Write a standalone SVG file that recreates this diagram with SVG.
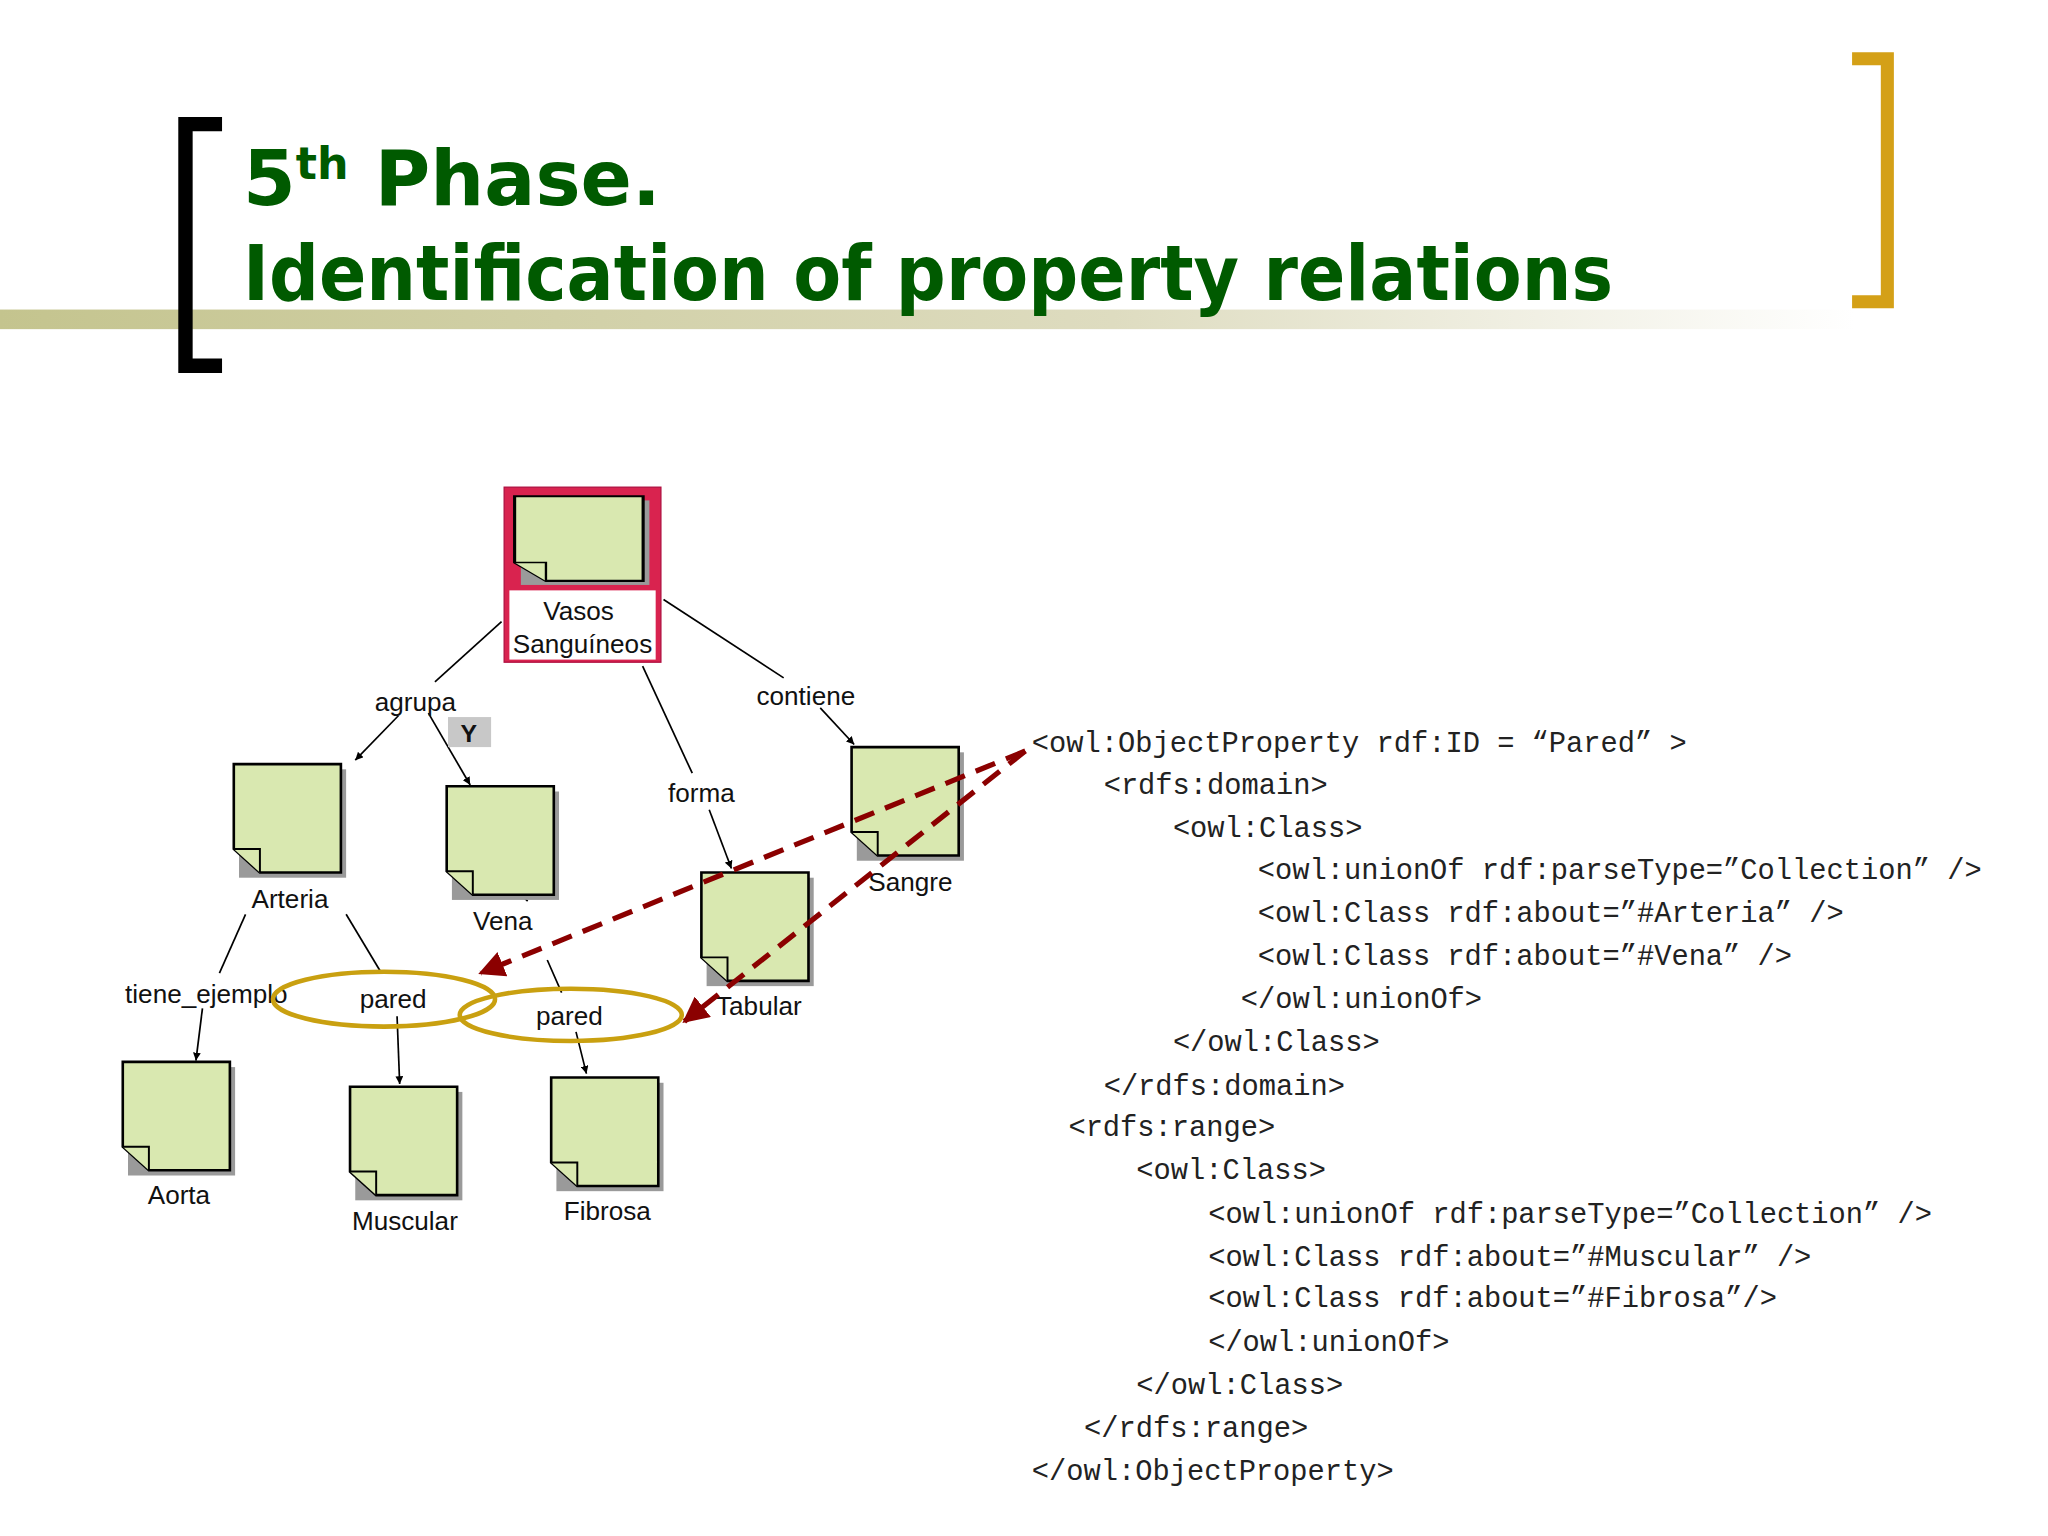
<svg xmlns="http://www.w3.org/2000/svg" width="2048" height="1536" viewBox="0 0 2048 1536">
<defs>
<linearGradient id="bar" x1="0" x2="1" y1="0" y2="0"><stop offset="0" stop-color="#c4c48e"/><stop offset="0.6" stop-color="#dedcc0"/><stop offset="1" stop-color="#ffffff"/></linearGradient>
<marker id="ah" viewBox="0 0 10 10" refX="10" refY="5" markerWidth="6" markerHeight="6" orient="auto" markerUnits="userSpaceOnUse"><path d="M0,0 L10,5 L0,10 z" fill="#000"/></marker>
<marker id="rh" viewBox="0 0 10 10" refX="9" refY="5" markerWidth="5" markerHeight="5" orient="auto"><path d="M0,0 L10,5 L0,10 z" fill="#8b0000"/></marker>
<g id="note"><rect x="4" y="4" width="82" height="83" fill="#9a9a9a"/><path d="M0,0 H82 V83 H20 L0,65 Z" fill="#d9e8b0" stroke="#000" stroke-width="2"/><path d="M0,65 H20 V83" fill="#d9e8b0" stroke="#000" stroke-width="1.5"/></g>
</defs>
<style>
.lbl{font-family:"Liberation Sans",Arial,sans-serif;font-size:20px;fill:#111;text-anchor:middle}
.ed{stroke:#000;stroke-width:1.3;fill:none}
.code{font-family:"Liberation Mono","DejaVu Sans Mono",monospace;font-size:22px;fill:#222}
.ttl{font-family:"DejaVu Sans",sans-serif;font-weight:bold;fill:#005a00}
</style>
<rect width="2048" height="1536" fill="#fff"/>
<g transform="scale(1.30612)">
<g id="title">
<rect x="0" y="237" width="1420" height="15" fill="url(#bar)"/>
<path d="M170,95 H142 V280 H170" fill="none" stroke="#000" stroke-width="11"/>
<path d="M1418,45 H1445 V231 H1418" fill="none" stroke="#d4a017" stroke-width="10"/>
<text class="ttl" x="186" y="157" font-size="58">5<tspan font-size="34" dy="-20">th</tspan><tspan dy="20"> Phase.</tspan></text>
<text class="ttl" x="186" y="230" font-size="58" textLength="1049" lengthAdjust="spacingAndGlyphs">Identification of property relations</text>
</g>
<g id="connectors">
<path class="ed" d="M384,476 L333,522"/><path class="ed" d="M305,548 L272,582" marker-end="url(#ah)"/>
<path class="ed" d="M328,546 L360,601" marker-end="url(#ah)"/>
<path class="ed" d="M492,510 L530,592"/><path class="ed" d="M543,620 L560,665" marker-end="url(#ah)"/>
<path class="ed" d="M508,459 L600,519"/><path class="ed" d="M628,542 L654,570" marker-end="url(#ah)"/>
<path class="ed" d="M188,700 L168,745"/><path class="ed" d="M155,772 L150,812" marker-end="url(#ah)"/>
<path class="ed" d="M265,700 L292,745"/><path class="ed" d="M304,778 L306,830" marker-end="url(#ah)"/>
<path class="ed" d="M402,688 L404,690 M419,735 L430,760"/><path class="ed" d="M441,790 L449,822" marker-end="url(#ah)"/>
</g>
<g id="n-vasos"><rect x="386" y="373" width="120" height="134" fill="#d9234f" stroke="#b01040"/><rect x="390" y="452" width="112" height="53" fill="#fff"/><use href="#note" transform="translate(394,380) scale(1.2,0.78)"/><text class="lbl" x="443" y="475">Vasos</text><text class="lbl" x="446" y="500">Sanguíneos</text></g>
<g id="n-arteria"><use href="#note" x="179" y="585"/><text class="lbl" x="222" y="695">Arteria</text></g>
<g id="n-vena"><use href="#note" x="342" y="602"/><text class="lbl" x="385" y="712">Vena</text></g>
<g id="n-sangre"><use href="#note" x="652" y="572"/><text class="lbl" x="697" y="682">Sangre</text></g>
<g id="n-tabular"><use href="#note" x="537" y="668"/><text class="lbl" x="581" y="777">Tabular</text></g>
<g id="n-aorta"><use href="#note" x="94" y="813"/><text class="lbl" x="137" y="922">Aorta</text></g>
<g id="n-muscular"><use href="#note" x="268" y="832"/><text class="lbl" x="310" y="942">Muscular</text></g>
<g id="n-fibrosa"><use href="#note" x="422" y="825"/><text class="lbl" x="465" y="934">Fibrosa</text></g>
<g id="labels">
<text class="lbl" x="318" y="544">agrupa</text>
<rect x="343" y="549" width="33" height="23" fill="#c8c8c8"/><text x="359" y="568" font-family="Liberation Sans,sans-serif" font-weight="bold" font-size="19" text-anchor="middle" fill="#111">Y</text>
<text class="lbl" x="537" y="614">forma</text>
<text class="lbl" x="617" y="540">contiene</text>
<text class="lbl" x="158" y="768">tiene_ejemplo</text>
<text class="lbl" x="301" y="772">pared</text>
<text class="lbl" x="436" y="785">pared</text>
</g>
<g id="highlights" fill="none">
<ellipse cx="294" cy="765" rx="85" ry="21" stroke="#c9a010" stroke-width="3.5"/>
<ellipse cx="437" cy="777" rx="85" ry="20" stroke="#c9a010" stroke-width="3.5"/>
<path d="M785,575 L368,745" stroke="#8b0000" stroke-width="4" stroke-dasharray="16 9" marker-end="url(#rh)"/>
<path d="M785,575 L524,782" stroke="#8b0000" stroke-width="4" stroke-dasharray="16 9" marker-end="url(#rh)"/>
</g>
<g id="code" class="code">
<text x="790" y="576">&lt;owl:ObjectProperty rdf:ID = “Pared” &gt;</text>
<text x="845" y="608">&lt;rdfs:domain&gt;</text>
<text x="898" y="641">&lt;owl:Class&gt;</text>
<text x="963" y="673">&lt;owl:unionOf rdf:parseType=”Collection” /&gt;</text>
<text x="963" y="706">&lt;owl:Class rdf:about=”#Arteria” /&gt;</text>
<text x="963" y="739">&lt;owl:Class rdf:about=”#Vena” /&gt;</text>
<text x="950" y="772">&lt;/owl:unionOf&gt;</text>
<text x="898" y="805">&lt;/owl:Class&gt;</text>
<text x="845" y="838">&lt;/rdfs:domain&gt;</text>
<text x="818" y="870">&lt;rdfs:range&gt;</text>
<text x="870" y="903">&lt;owl:Class&gt;</text>
<text x="925" y="936">&lt;owl:unionOf rdf:parseType=”Collection” /&gt;</text>
<text x="925" y="969">&lt;owl:Class rdf:about=”#Muscular” /&gt;</text>
<text x="925" y="1001">&lt;owl:Class rdf:about=”#Fibrosa”/&gt;</text>
<text x="925" y="1034">&lt;/owl:unionOf&gt;</text>
<text x="870" y="1067">&lt;/owl:Class&gt;</text>
<text x="830" y="1100">&lt;/rdfs:range&gt;</text>
<text x="790" y="1133">&lt;/owl:ObjectProperty&gt;</text>
</g>
</g>
</svg>
